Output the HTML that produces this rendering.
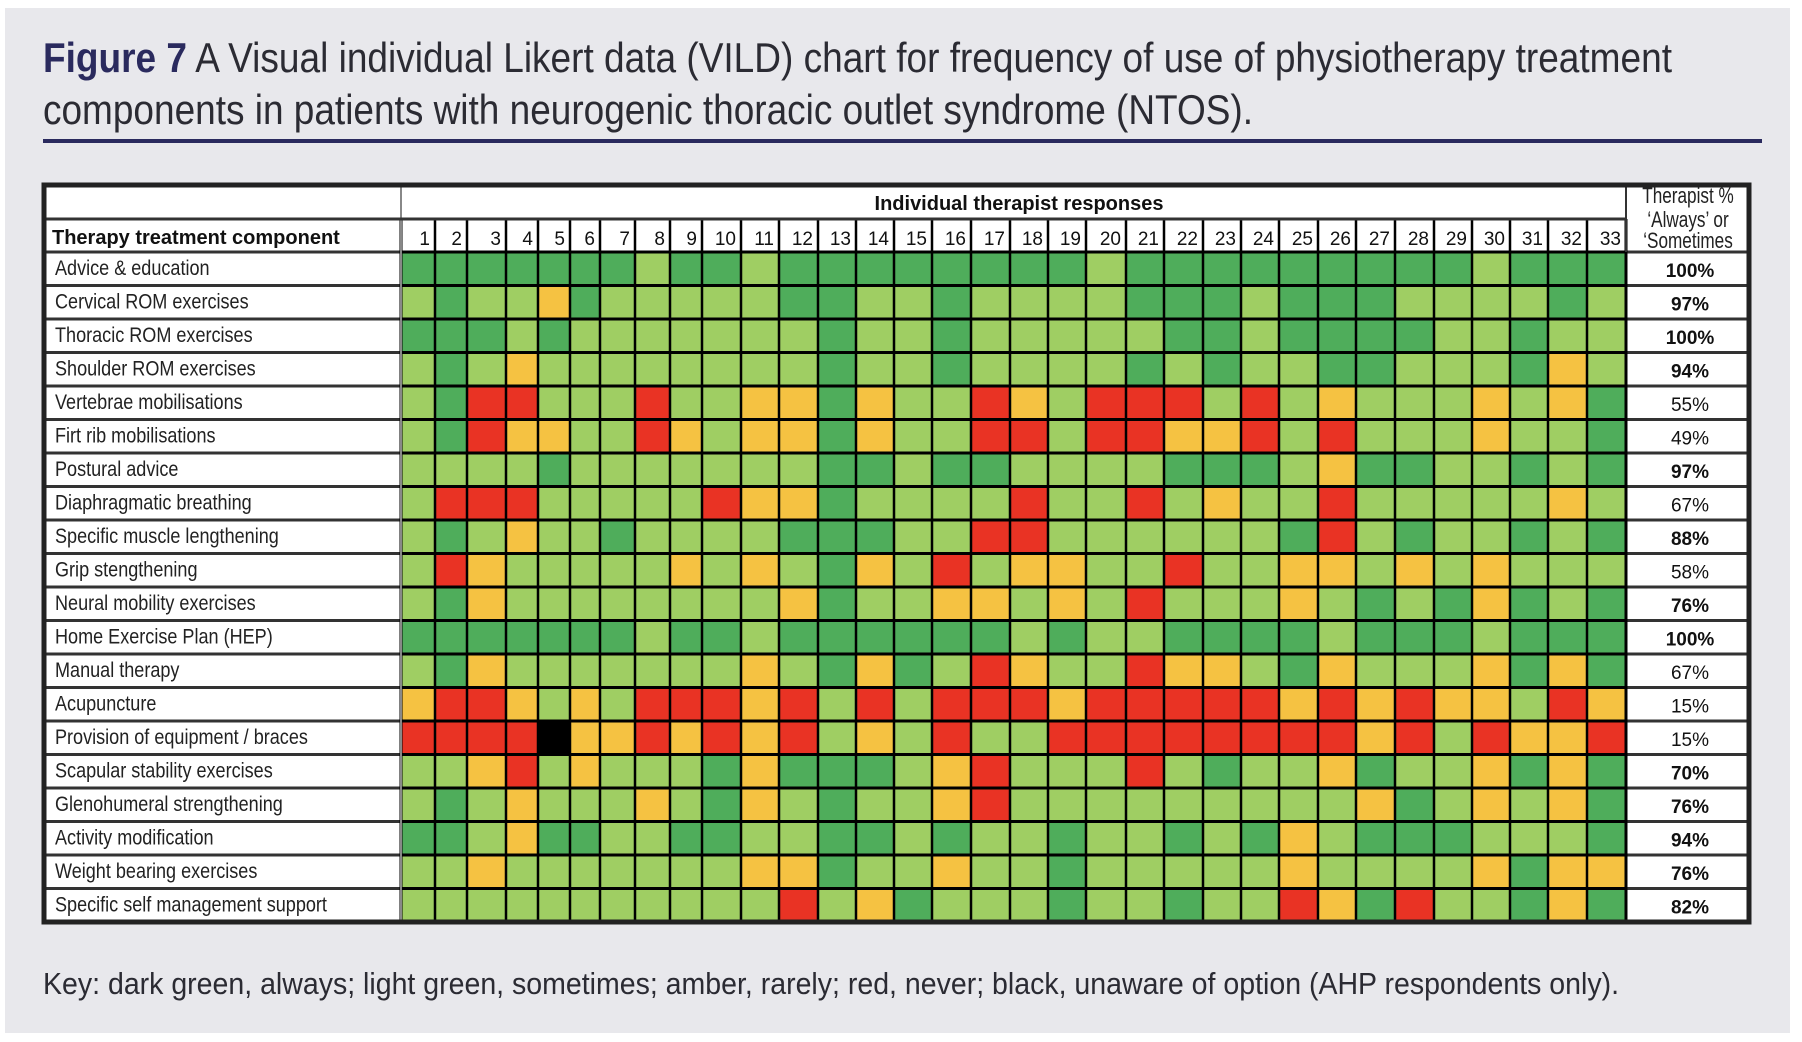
<!DOCTYPE html>
<html><head><meta charset="utf-8">
<style>
html,body{margin:0;padding:0;background:#fff;}
svg{display:block;}
text{font-family:"Liberation Sans",Arial,sans-serif;}
</style></head>
<body>
<svg id="s" width="1802" height="1042" viewBox="0 0 1802 1042" xmlns="http://www.w3.org/2000/svg">
<rect x="5" y="8" width="1785" height="1025" fill="#e8e8ec"/>
<!-- Title -->
<text x="43" y="72" font-size="42" fill="#2b2b33" textLength="1629" lengthAdjust="spacingAndGlyphs"><tspan fill="#2a2a5e" font-weight="bold">Figure 7</tspan> A Visual individual Likert data (VILD) chart for frequency of use of physiotherapy treatment</text>
<text x="43" y="124" font-size="42" fill="#2b2b33" textLength="1210" lengthAdjust="spacingAndGlyphs">components in patients with neurogenic thoracic outlet syndrome (NTOS).</text>
<rect x="43" y="139" width="1719" height="4" fill="#2a2a5e"/>
<!-- table base -->
<rect x="42" y="183" width="1709" height="741" fill="#fff"/>
<g id="cells"></g>
<g id="lines" stroke="#333"></g>
<!-- headers -->
<text x="1019" y="210" font-size="20" font-weight="bold" text-anchor="middle" fill="#111">Individual therapist responses</text>
<text x="52" y="244" font-size="20" font-weight="bold" fill="#111">Therapy treatment component</text>
<g font-size="22" fill="#222" text-anchor="middle">
<text transform="translate(1688,203) scale(0.78,1)">Therapist %</text>
<text transform="translate(1688,227) scale(0.78,1)">‘Always’ or</text>
<text transform="translate(1688,248) scale(0.78,1)">‘Sometimes</text>
</g>
<g font-size="19" fill="#111" text-anchor="end">
<text x="430" y="245">1</text><text x="462" y="245">2</text><text x="501" y="245">3</text><text x="533" y="245">4</text><text x="565" y="245">5</text><text x="595" y="245">6</text><text x="630" y="245">7</text><text x="665" y="245">8</text><text x="697" y="245">9</text><text x="736" y="245">10</text><text x="774" y="245">11</text><text x="813" y="245">12</text><text x="851" y="245">13</text><text x="889" y="245">14</text><text x="927" y="245">15</text><text x="966" y="245">16</text><text x="1005" y="245">17</text><text x="1043" y="245">18</text><text x="1081" y="245">19</text><text x="1121" y="245">20</text><text x="1159" y="245">21</text><text x="1198" y="245">22</text><text x="1236" y="245">23</text><text x="1274" y="245">24</text><text x="1313" y="245">25</text><text x="1351" y="245">26</text><text x="1390" y="245">27</text><text x="1429" y="245">28</text><text x="1467" y="245">29</text><text x="1505" y="245">30</text><text x="1543" y="245">31</text><text x="1582" y="245">32</text><text x="1621" y="245">33</text>
</g>
<g font-size="21" fill="#222">
<text transform="translate(55,275) scale(0.86,1)">Advice &amp; education</text>
<text transform="translate(55,308.5) scale(0.86,1)">Cervical ROM exercises</text>
<text transform="translate(55,342) scale(0.86,1)">Thoracic ROM exercises</text>
<text transform="translate(55,375.5) scale(0.86,1)">Shoulder ROM exercises</text>
<text transform="translate(55,409) scale(0.86,1)">Vertebrae mobilisations</text>
<text transform="translate(55,442.5) scale(0.86,1)">Firt rib mobilisations</text>
<text transform="translate(55,476) scale(0.86,1)">Postural advice</text>
<text transform="translate(55,509.5) scale(0.86,1)">Diaphragmatic breathing</text>
<text transform="translate(55,543) scale(0.86,1)">Specific muscle lengthening</text>
<text transform="translate(55,576.5) scale(0.86,1)">Grip stengthening</text>
<text transform="translate(55,610) scale(0.86,1)">Neural mobility exercises</text>
<text transform="translate(55,643.5) scale(0.86,1)">Home Exercise Plan (HEP)</text>
<text transform="translate(55,677) scale(0.86,1)">Manual therapy</text>
<text transform="translate(55,710.5) scale(0.86,1)">Acupuncture</text>
<text transform="translate(55,744) scale(0.86,1)">Provision of equipment / braces</text>
<text transform="translate(55,777.5) scale(0.86,1)">Scapular stability exercises</text>
<text transform="translate(55,811) scale(0.86,1)">Glenohumeral strengthening</text>
<text transform="translate(55,844.5) scale(0.86,1)">Activity modification</text>
<text transform="translate(55,878) scale(0.86,1)">Weight bearing exercises</text>
<text transform="translate(55,911.5) scale(0.86,1)">Specific self management support</text>
</g>
<g font-size="19" fill="#111" text-anchor="middle">
<text x="1690" y="277" font-weight="bold">100%</text>
<text x="1690" y="310.5" font-weight="bold">97%</text>
<text x="1690" y="344" font-weight="bold">100%</text>
<text x="1690" y="377.5" font-weight="bold">94%</text>
<text x="1690" y="411">55%</text>
<text x="1690" y="444.5">49%</text>
<text x="1690" y="478" font-weight="bold">97%</text>
<text x="1690" y="511.5">67%</text>
<text x="1690" y="545" font-weight="bold">88%</text>
<text x="1690" y="578.5">58%</text>
<text x="1690" y="612" font-weight="bold">76%</text>
<text x="1690" y="645.5" font-weight="bold">100%</text>
<text x="1690" y="679">67%</text>
<text x="1690" y="712.5">15%</text>
<text x="1690" y="746">15%</text>
<text x="1690" y="779.5" font-weight="bold">70%</text>
<text x="1690" y="813" font-weight="bold">76%</text>
<text x="1690" y="846.5" font-weight="bold">94%</text>
<text x="1690" y="880" font-weight="bold">76%</text>
<text x="1690" y="913.5" font-weight="bold">82%</text>
</g>
<text x="43" y="994" font-size="31" fill="#2b2b33" textLength="1576" lengthAdjust="spacingAndGlyphs">Key: dark green, always; light green, sometimes; amber, rarely; red, never; black, unaware of option (AHP respondents only).</text>
</svg>
<script>
(function(){
var NS="http://www.w3.org/2000/svg";
var cx=[401,435,467,506,538,570,600,635,670,702,741,779,818,856,894,932,971,1010,1048,1086,1126,1164,1203,1241,1279,1318,1356,1395,1434,1472,1510,1548,1587,1626];
var rows=[
"DDDDDDDLDDLDDDDDDDDLDDDDDDDDDLDDD",
"LDLLADLLLLLDDLLDLLLLDDDLDDDLLLLDL",
"DDDLDLLLLLLLDLLDLLLLLDDLDDDDLLDLL",
"LDLALLLLLLLLDLLDLLLLDLDLLDDLLLDAL",
"LDRRLLLRLLAADALLRALRRRLRLALLLALAD",
"LDRAALLRALAADALLRRLRRAARLRLLLALLD",
"LLLLDLLLLLLLDDLDDLLLLDDDLADDLLDLD",
"LRRRLLLLLRAADLLLLRLLRLALLRLLLLLAL",
"LDLALLDLLLLDDDLLRRLLLLLLDRLDLLDLD",
"LRALLLLLALALDALRLAALLRLLAALALALLL",
"LDALLLLLLLLADLLAALALRLLLALDLDADLD",
"DDDDDDDLDDLDDDDDDLDLLDDDDLDDDLDDD",
"LDALLLLLLLALDADLRALLRAALDALLLADAD",
"ARRALALRRRARLRLRRRARRRRRARARAALRA",
"RRRRKAARARARLALRLLRRRRRRRRARLRAAR",
"LLARLALLLDADDDLARLLLRLDLLADLLADAD",
"LDLALLLALDALDLLARLLLLLLLLLADLALAD",
"DDLADDLLDDLLDDLDLLDLLDLDALDDDLLLD",
"LLALLLLLLLAADLLALLDLLLLLALLLLADAA",
"LLLLLLLLLLLRLADLLLDLLDLLRADRLLDAD"];
var col={D:"#4fad5b",L:"#9fce63",A:"#f5c242",R:"#e93324",K:"#000"};
var g=document.getElementById("cells"), ln=document.getElementById("lines");
function el(p,t,a){var e=document.createElementNS(NS,t);for(var k in a)e.setAttribute(k,a[k]);p.appendChild(e);return e;}
var y0=252,rh=33.5;
for(var r=0;r<20;r++){for(var c=0;c<33;c++){
 el(g,"rect",{x:cx[c],y:y0+r*rh,width:cx[c+1]-cx[c],height:rh,fill:col[rows[r][c]]});}}
for(var r=0;r<=20;r++){var y=y0+r*rh;
 el(ln,"line",{x1:401,x2:1626,y1:y,y2:y,stroke:"#000","stroke-width":3});
 el(ln,"line",{x1:46,x2:401,y1:y,y2:y,"stroke-width":3});
 el(ln,"line",{x1:1626,x2:1749,y1:y,y2:y,"stroke-width":3});}
for(var c=0;c<=33;c++){el(ln,"line",{x1:cx[c],x2:cx[c],y1:219,y2:922,stroke:"#000","stroke-width":c==0||c==33?3:2.5});}
el(ln,"line",{x1:401,x2:401,y1:185,y2:922,stroke:"#888","stroke-width":2});
el(ln,"line",{x1:1626,x2:1626,y1:185,y2:252,stroke:"#333","stroke-width":2});
el(ln,"line",{x1:46,x2:1626,y1:219,y2:219,"stroke-width":3});
el(ln,"rect",{x:44,y:185,width:1705,height:737,fill:"none","stroke-width":5,stroke:"#222"});
})();
</script>
</body></html>
